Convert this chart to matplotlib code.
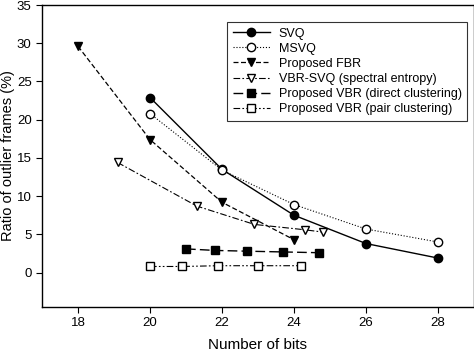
import matplotlib.pyplot as plt

svq_x = [20, 22, 24, 26, 28]
svq_y = [22.9, 13.5, 7.5, 3.8, 1.9]

msvq_x = [20, 22, 24, 26, 28]
msvq_y = [20.8, 13.4, 8.9, 5.7, 4.0]

fbr_x = [18, 20, 22, 24]
fbr_y = [29.6, 17.4, 9.2, 4.3]

vbrsvq_x = [19.1, 21.3, 22.9, 24.3, 24.8]
vbrsvq_y = [14.4, 8.7, 6.3, 5.6, 5.3]

direct_x = [21.0, 21.8, 22.7, 23.7, 24.7]
direct_y = [3.1, 2.9, 2.8, 2.7, 2.6]

pair_x = [20.0, 20.9, 21.9, 23.0, 24.2]
pair_y = [0.8, 0.8, 0.9, 0.9, 0.9]

plt.rcParams['font.family'] = ['Liberation Sans', 'DejaVu Sans']

fig = plt.figure(figsize=(4.74, 3.51), dpi=100)
ax = fig.add_axes([42 / 474, 1 - 307 / 351, 1 - 42 / 474, (307 - 5) / 351])

ms = 6
ax.plot(svq_x, svq_y, '-', color='black', lw=1.0, marker='o', ms=ms,
        mfc='black', mec='black', label='SVQ')
ax.plot(msvq_x, msvq_y, ':', color='black', lw=0.8, marker='o', ms=ms,
        mfc='white', mec='black', label='MSVQ')
ax.plot(fbr_x, fbr_y, color='black', lw=0.9, ls=(0, (4, 2)), marker='v', ms=ms,
        mfc='black', mec='black', label='Proposed FBR')
ax.plot(vbrsvq_x, vbrsvq_y, color='black', lw=0.8, ls=(0, (6, 2, 1.5, 2)), marker='v', ms=ms,
        mfc='white', mec='black', label='VBR-SVQ (spectral entropy)')
ax.plot(direct_x, direct_y, color='black', lw=1.0, ls=(0, (7, 3)), marker='s', ms=5.5,
        mfc='black', mec='black', label='Proposed VBR (direct clustering)')
ax.plot(pair_x, pair_y, color='black', lw=0.8, ls=(0, (6, 2, 1.5, 2, 1.5, 2)), marker='s', ms=5.5,
        mfc='white', mec='black', label='Proposed VBR (pair clustering)')

ax.set_xlim(17, 29)
ax.set_ylim(-4.5, 35)
ax.set_xticks([18, 20, 22, 24, 26, 28])
ax.set_yticks([0, 5, 10, 15, 20, 25, 30, 35])
ax.tick_params(direction='out', length=4, width=0.8, labelsize=9.5)
for s in ax.spines.values():
    s.set_linewidth(1.0)

ax.set_xlabel('Number of bits', fontsize=11, labelpad=6)
ax.set_ylabel('Ratio of outlier frames (%)', fontsize=10.5)
ax.yaxis.set_label_coords(-0.062, 0.5)

leg = ax.legend(loc='upper left', bbox_to_anchor=(0.428, 0.944), fontsize=9,
                handlelength=3.0, handletextpad=0.7, labelspacing=0.25,
                borderpad=0.45, borderaxespad=0, frameon=True, fancybox=False,
                edgecolor='black')
leg.get_frame().set_linewidth(0.8)

fig.savefig('out.png', dpi=100)
